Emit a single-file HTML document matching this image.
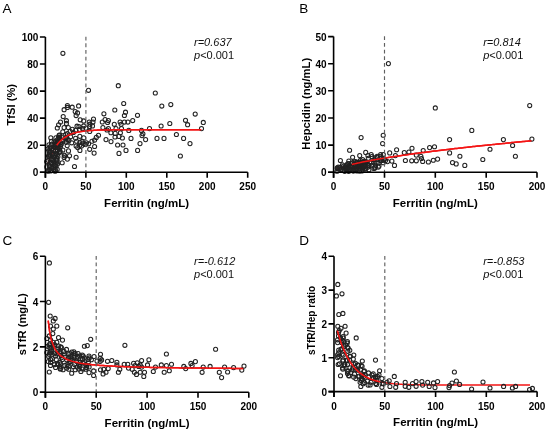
<!DOCTYPE html>
<html><head><meta charset="utf-8"><style>
html,body{margin:0;padding:0;background:#fff;}
svg{display:block;will-change:transform;}
text{font-family:"Liberation Sans", sans-serif;}
.t{font-size:10px;font-weight:bold;fill:#000;}
.l{font-size:11.5px;font-weight:bold;fill:#000;}
.s{font-size:11px;fill:#111;}
.pl{font-size:13.5px;fill:#000;}
</style></head><body>
<svg width="550" height="435" viewBox="0 0 550 435">
<rect width="550" height="435" fill="#fff"/>
<path d="M47.8,164.0 L49.1,160.3 L50.4,157.0 L51.7,154.1 L52.9,151.5 L54.2,149.1 L55.5,147.1 L56.8,145.2 L58.1,143.5 L59.3,142.1 L60.6,140.7 L61.9,139.6 L63.2,138.5 L64.5,137.6 L65.7,136.7 L67.0,136.0 L68.3,135.3 L69.6,134.7 L70.9,134.2 L72.1,133.7 L73.4,133.3 L74.7,132.9 L76.0,132.6 L77.2,132.2 L78.5,132.0 L79.8,131.7 L81.1,131.5 L82.4,131.3 L83.6,131.2 L84.9,131.0 L86.2,130.9 L87.5,130.7 L88.8,130.6 L90.0,130.5 L91.3,130.5 L92.6,130.4 L93.9,130.3 L95.2,130.2 L96.4,130.2 L97.7,130.1 L99.0,130.1 L100.3,130.1 L101.6,130.0 L102.8,130.0 L104.1,130.0 L105.4,129.9 L106.7,129.9 L108.0,129.9 L109.2,129.9 L110.5,129.9 L111.8,129.9 L113.1,129.8 L114.3,129.8 L115.6,129.8 L116.9,129.8 L118.2,129.8 L119.5,129.8 L120.7,129.8 L122.0,129.8 L123.3,129.8 L124.6,129.8 L125.9,129.8 L127.1,129.8 L128.4,129.8 L129.7,129.8 L131.0,129.8 L132.3,129.8 L133.5,129.8 L134.8,129.7 L136.1,129.7 L137.4,129.7 L138.7,129.7 L139.9,129.7 L141.2,129.7 L142.5,129.7 L143.8,129.7 L145.0,129.7 L146.3,129.7 L147.6,129.7 L148.9,129.7 L150.2,129.7 L151.4,129.7 L152.7,129.7 L154.0,129.7 L155.3,129.7 L156.6,129.7 L157.8,129.7 L159.1,129.7 L160.4,129.7 L161.7,129.7 L163.0,129.7 L164.2,129.7 L165.5,129.7 L166.8,129.7 L168.1,129.7 L169.4,129.7 L170.6,129.7 L171.9,129.7 L173.2,129.7 L174.5,129.7 L175.7,129.7 L177.0,129.7 L178.3,129.7 L179.6,129.7 L180.9,129.7 L182.1,129.7 L183.4,129.7 L184.7,129.7 L186.0,129.7 L187.3,129.7 L188.5,129.7 L189.8,129.7 L191.1,129.7 L192.4,129.7 L193.7,129.7 L194.9,129.7 L196.2,129.7 L197.5,129.7 L198.8,129.7 L200.1,129.7 L201.3,129.7" fill="none" stroke="#f41414" stroke-width="1.5"/>
<g fill="none" stroke="#222" stroke-width="1.05"><circle cx="62.9" cy="53.3" r="2.05"/><circle cx="88.5" cy="90.3" r="2.05"/><circle cx="118.3" cy="85.7" r="2.05"/><circle cx="155.3" cy="93.0" r="2.05"/><circle cx="78.6" cy="105.9" r="2.05"/><circle cx="67.4" cy="105.5" r="2.05"/><circle cx="67.4" cy="107.4" r="2.05"/><circle cx="64.1" cy="109.7" r="2.05"/><circle cx="72.2" cy="107.2" r="2.05"/><circle cx="75.2" cy="111.5" r="2.05"/><circle cx="77.5" cy="112.9" r="2.05"/><circle cx="76.1" cy="115.6" r="2.05"/><circle cx="63.2" cy="116.6" r="2.05"/><circle cx="80.2" cy="119.8" r="2.05"/><circle cx="60.5" cy="122.1" r="2.05"/><circle cx="66.4" cy="120.7" r="2.05"/><circle cx="66.4" cy="123.4" r="2.05"/><circle cx="58.6" cy="124.8" r="2.05"/><circle cx="57.3" cy="128.0" r="2.05"/><circle cx="64.1" cy="127.6" r="2.05"/><circle cx="68.3" cy="127.6" r="2.05"/><circle cx="72.4" cy="129.4" r="2.05"/><circle cx="77.0" cy="126.2" r="2.05"/><circle cx="75.6" cy="130.3" r="2.05"/><circle cx="79.8" cy="129.4" r="2.05"/><circle cx="62.8" cy="131.7" r="2.05"/><circle cx="59.1" cy="135.4" r="2.05"/><circle cx="67.4" cy="133.6" r="2.05"/><circle cx="70.6" cy="136.8" r="2.05"/><circle cx="50.8" cy="137.7" r="2.05"/><circle cx="79.8" cy="136.3" r="2.05"/><circle cx="75.6" cy="138.2" r="2.05"/><circle cx="83.7" cy="120.9" r="2.05"/><circle cx="93.5" cy="119.1" r="2.05"/><circle cx="89.2" cy="122.0" r="2.05"/><circle cx="93.0" cy="122.0" r="2.05"/><circle cx="103.9" cy="113.8" r="2.05"/><circle cx="102.3" cy="122.0" r="2.05"/><circle cx="123.7" cy="103.5" r="2.05"/><circle cx="161.8" cy="106.1" r="2.05"/><circle cx="170.8" cy="104.6" r="2.05"/><circle cx="114.8" cy="110.0" r="2.05"/><circle cx="125.5" cy="112.2" r="2.05"/><circle cx="124.4" cy="115.5" r="2.05"/><circle cx="137.5" cy="115.3" r="2.05"/><circle cx="105.1" cy="119.6" r="2.05"/><circle cx="108.4" cy="120.6" r="2.05"/><circle cx="107.6" cy="122.5" r="2.05"/><circle cx="132.7" cy="120.6" r="2.05"/><circle cx="120.1" cy="122.1" r="2.05"/><circle cx="124.4" cy="122.1" r="2.05"/><circle cx="127.9" cy="122.1" r="2.05"/><circle cx="114.3" cy="124.3" r="2.05"/><circle cx="121.1" cy="124.3" r="2.05"/><circle cx="161.1" cy="126.0" r="2.05"/><circle cx="169.8" cy="123.5" r="2.05"/><circle cx="102.9" cy="127.5" r="2.05"/><circle cx="108.4" cy="128.6" r="2.05"/><circle cx="116.0" cy="128.6" r="2.05"/><circle cx="121.5" cy="128.6" r="2.05"/><circle cx="128.8" cy="130.4" r="2.05"/><circle cx="141.5" cy="130.4" r="2.05"/><circle cx="149.5" cy="128.6" r="2.05"/><circle cx="110.9" cy="132.7" r="2.05"/><circle cx="120.4" cy="132.7" r="2.05"/><circle cx="142.9" cy="133.7" r="2.05"/><circle cx="176.4" cy="134.5" r="2.05"/><circle cx="195.2" cy="114.1" r="2.05"/><circle cx="185.5" cy="120.3" r="2.05"/><circle cx="187.6" cy="124.7" r="2.05"/><circle cx="203.3" cy="122.4" r="2.05"/><circle cx="201.5" cy="128.6" r="2.05"/><circle cx="106.0" cy="139.6" r="2.05"/><circle cx="111.0" cy="141.6" r="2.05"/><circle cx="115.0" cy="137.0" r="2.05"/><circle cx="119.0" cy="136.4" r="2.05"/><circle cx="122.4" cy="138.0" r="2.05"/><circle cx="131.0" cy="138.4" r="2.05"/><circle cx="117.6" cy="145.0" r="2.05"/><circle cx="123.0" cy="145.0" r="2.05"/><circle cx="119.0" cy="153.4" r="2.05"/><circle cx="126.0" cy="150.4" r="2.05"/><circle cx="137.6" cy="150.4" r="2.05"/><circle cx="140.0" cy="143.6" r="2.05"/><circle cx="145.6" cy="139.6" r="2.05"/><circle cx="142.0" cy="135.6" r="2.05"/><circle cx="157.0" cy="138.4" r="2.05"/><circle cx="164.0" cy="138.4" r="2.05"/><circle cx="183.6" cy="138.4" r="2.05"/><circle cx="190.0" cy="143.6" r="2.05"/><circle cx="180.4" cy="156.0" r="2.05"/><circle cx="107.0" cy="130.0" r="2.05"/><circle cx="83.7" cy="125.9" r="2.05"/><circle cx="82.6" cy="128.6" r="2.05"/><circle cx="85.9" cy="128.1" r="2.05"/><circle cx="89.7" cy="126.5" r="2.05"/><circle cx="92.5" cy="125.9" r="2.05"/><circle cx="70.1" cy="131.4" r="2.05"/><circle cx="73.4" cy="132.5" r="2.05"/><circle cx="89.7" cy="131.4" r="2.05"/><circle cx="65.7" cy="134.6" r="2.05"/><circle cx="98.5" cy="135.2" r="2.05"/><circle cx="55.9" cy="137.9" r="2.05"/><circle cx="59.7" cy="138.5" r="2.05"/><circle cx="66.3" cy="137.4" r="2.05"/><circle cx="67.9" cy="139.5" r="2.05"/><circle cx="83.7" cy="137.9" r="2.05"/><circle cx="96.3" cy="137.4" r="2.05"/><circle cx="94.6" cy="140.1" r="2.05"/><circle cx="91.9" cy="141.2" r="2.05"/><circle cx="51.5" cy="141.2" r="2.05"/><circle cx="58.1" cy="141.2" r="2.05"/><circle cx="62.5" cy="141.2" r="2.05"/><circle cx="66.3" cy="142.3" r="2.05"/><circle cx="76.6" cy="141.2" r="2.05"/><circle cx="82.1" cy="141.2" r="2.05"/><circle cx="86.5" cy="142.8" r="2.05"/><circle cx="71.7" cy="142.8" r="2.05"/><circle cx="76.1" cy="157.2" r="2.05"/><circle cx="74.5" cy="166.5" r="2.05"/><circle cx="62.2" cy="162.7" r="2.05"/><circle cx="67.4" cy="159.1" r="2.05"/><circle cx="69.5" cy="155.8" r="2.05"/><circle cx="68.5" cy="150.9" r="2.05"/><circle cx="77.7" cy="147.6" r="2.05"/><circle cx="79.9" cy="150.4" r="2.05"/><circle cx="81.5" cy="146.0" r="2.05"/><circle cx="89.7" cy="149.3" r="2.05"/><circle cx="94.6" cy="146.5" r="2.05"/><circle cx="94.1" cy="153.1" r="2.05"/><circle cx="88.6" cy="143.8" r="2.05"/><circle cx="49.0" cy="144.7" r="2.05"/><circle cx="48.0" cy="148.8" r="2.05"/><circle cx="48.5" cy="156.1" r="2.05"/><circle cx="64.1" cy="157.5" r="2.05"/><circle cx="76.1" cy="146.0" r="2.05"/><circle cx="79.8" cy="142.4" r="2.05"/><circle cx="90.0" cy="124.2" r="2.05"/><circle cx="78.9" cy="126.5" r="2.05"/><circle cx="115.2" cy="133.4" r="2.05"/><circle cx="83.5" cy="143.5" r="2.05"/><circle cx="79.8" cy="145.3" r="2.05"/><circle cx="85.4" cy="144.4" r="2.05"/><circle cx="59.5" cy="135.0" r="2.05"/><circle cx="58.6" cy="137.1" r="2.05"/><circle cx="59.4" cy="137.2" r="2.05"/><circle cx="61.3" cy="136.8" r="2.05"/><circle cx="57.3" cy="139.7" r="2.05"/><circle cx="59.1" cy="139.0" r="2.05"/><circle cx="62.1" cy="140.3" r="2.05"/><circle cx="54.1" cy="141.7" r="2.05"/><circle cx="56.1" cy="142.2" r="2.05"/><circle cx="57.3" cy="142.0" r="2.05"/><circle cx="60.7" cy="142.6" r="2.05"/><circle cx="51.5" cy="144.2" r="2.05"/><circle cx="54.8" cy="144.5" r="2.05"/><circle cx="56.3" cy="144.0" r="2.05"/><circle cx="58.9" cy="144.7" r="2.05"/><circle cx="61.1" cy="143.9" r="2.05"/><circle cx="50.1" cy="146.8" r="2.05"/><circle cx="54.2" cy="146.5" r="2.05"/><circle cx="55.3" cy="145.7" r="2.05"/><circle cx="57.7" cy="147.3" r="2.05"/><circle cx="60.5" cy="146.4" r="2.05"/><circle cx="50.0" cy="148.5" r="2.05"/><circle cx="51.6" cy="148.7" r="2.05"/><circle cx="55.3" cy="147.6" r="2.05"/><circle cx="57.2" cy="149.2" r="2.05"/><circle cx="59.6" cy="149.1" r="2.05"/><circle cx="48.9" cy="150.7" r="2.05"/><circle cx="50.1" cy="151.6" r="2.05"/><circle cx="53.4" cy="150.2" r="2.05"/><circle cx="55.5" cy="150.8" r="2.05"/><circle cx="57.4" cy="150.5" r="2.05"/><circle cx="60.0" cy="151.1" r="2.05"/><circle cx="49.2" cy="153.2" r="2.05"/><circle cx="52.8" cy="153.7" r="2.05"/><circle cx="55.0" cy="153.7" r="2.05"/><circle cx="56.1" cy="153.8" r="2.05"/><circle cx="59.2" cy="152.2" r="2.05"/><circle cx="60.1" cy="152.1" r="2.05"/><circle cx="49.3" cy="154.8" r="2.05"/><circle cx="50.2" cy="155.6" r="2.05"/><circle cx="52.9" cy="154.5" r="2.05"/><circle cx="54.8" cy="155.4" r="2.05"/><circle cx="57.1" cy="154.9" r="2.05"/><circle cx="49.7" cy="156.9" r="2.05"/><circle cx="51.3" cy="158.4" r="2.05"/><circle cx="54.4" cy="157.0" r="2.05"/><circle cx="56.8" cy="158.2" r="2.05"/><circle cx="57.9" cy="156.6" r="2.05"/><circle cx="48.1" cy="160.2" r="2.05"/><circle cx="51.3" cy="159.9" r="2.05"/><circle cx="52.7" cy="160.8" r="2.05"/><circle cx="56.1" cy="159.8" r="2.05"/><circle cx="57.2" cy="160.1" r="2.05"/><circle cx="46.7" cy="161.6" r="2.05"/><circle cx="50.8" cy="162.8" r="2.05"/><circle cx="51.7" cy="162.8" r="2.05"/><circle cx="54.0" cy="162.9" r="2.05"/><circle cx="57.1" cy="161.9" r="2.05"/><circle cx="49.4" cy="165.2" r="2.05"/><circle cx="51.1" cy="163.6" r="2.05"/><circle cx="54.0" cy="165.3" r="2.05"/><circle cx="55.9" cy="164.3" r="2.05"/><circle cx="57.5" cy="164.0" r="2.05"/><circle cx="46.8" cy="166.9" r="2.05"/><circle cx="49.5" cy="166.5" r="2.05"/><circle cx="51.8" cy="167.3" r="2.05"/><circle cx="55.2" cy="165.6" r="2.05"/><circle cx="56.0" cy="166.2" r="2.05"/><circle cx="49.1" cy="169.5" r="2.05"/><circle cx="51.9" cy="168.5" r="2.05"/><circle cx="54.0" cy="169.2" r="2.05"/><circle cx="55.4" cy="169.8" r="2.05"/><circle cx="57.2" cy="169.2" r="2.05"/><circle cx="48.1" cy="171.2" r="2.05"/><circle cx="50.6" cy="170.8" r="2.05"/><circle cx="51.8" cy="170.6" r="2.05"/><circle cx="55.1" cy="171.2" r="2.05"/><circle cx="66.1" cy="140.0" r="2.05"/><circle cx="68.9" cy="140.5" r="2.05"/><circle cx="61.1" cy="144.5" r="2.05"/><circle cx="67.2" cy="145.6" r="2.05"/><circle cx="62.9" cy="150.0" r="2.05"/><circle cx="64.2" cy="155.0" r="2.05"/><circle cx="64.6" cy="155.8" r="2.05"/></g>
<path d="M56.7,145.3 L57.9,143.7 L59.1,142.3 L60.3,141.0 L61.5,139.9 L62.8,138.8 L64.0,137.9 L65.2,137.1 L66.4,136.3 L67.6,135.7 L68.8,135.1 L70.0,134.5 L71.2,134.0 L72.4,133.6 L73.6,133.2 L74.8,132.9 L76.0,132.5 L77.2,132.3 L78.4,132.0 L79.6,131.8 L80.8,131.6 L82.0,131.4 L83.2,131.2 L84.4,131.1 L85.6,130.9 L86.9,130.8 L88.1,130.7 L89.3,130.6 L90.5,130.5 L91.7,130.4 L92.9,130.4 L94.1,130.3 L95.3,130.2 L96.5,130.2 L97.7,130.1 L98.9,130.1 L100.1,130.1 L101.3,130.0 L102.5,130.0 L103.7,130.0 L104.9,129.9 L106.1,129.9 L107.3,129.9 L108.5,129.9 L109.8,129.9 L111.0,129.9 L112.2,129.8 L113.4,129.8 L114.6,129.8 L115.8,129.8 L117.0,129.8 L118.2,129.8 L119.4,129.8 L120.6,129.8 L121.8,129.8 L123.0,129.8 L124.2,129.8 L125.4,129.8 L126.6,129.8 L127.8,129.8 L129.0,129.8 L130.2,129.8 L131.4,129.8 L132.6,129.8 L133.9,129.8 L135.1,129.7 L136.3,129.7 L137.5,129.7 L138.7,129.7 L139.9,129.7 L141.1,129.7 L142.3,129.7 L143.5,129.7 L144.7,129.7 L145.9,129.7 L147.1,129.7 L148.3,129.7 L149.5,129.7 L150.7,129.7 L151.9,129.7 L153.1,129.7 L154.3,129.7 L155.5,129.7 L156.7,129.7 L158.0,129.7 L159.2,129.7 L160.4,129.7 L161.6,129.7 L162.8,129.7 L164.0,129.7 L165.2,129.7 L166.4,129.7 L167.6,129.7 L168.8,129.7 L170.0,129.7 L171.2,129.7 L172.4,129.7 L173.6,129.7 L174.8,129.7 L176.0,129.7 L177.2,129.7 L178.4,129.7 L179.6,129.7 L180.8,129.7 L182.1,129.7 L183.3,129.7 L184.5,129.7 L185.7,129.7 L186.9,129.7 L188.1,129.7 L189.3,129.7 L190.5,129.7 L191.7,129.7 L192.9,129.7 L194.1,129.7 L195.3,129.7 L196.5,129.7 L197.7,129.7 L198.9,129.7 L200.1,129.7 L201.3,129.7" fill="none" stroke="#f41414" stroke-width="1.5"/>
<line x1="85.9" y1="36.7" x2="85.9" y2="172.2" stroke="#606060" stroke-width="1.15" stroke-dasharray="3.8,2.87"/>
<path d="M45.4,37.0 V177.7 M39.9,172.2 H247.7" stroke="#000" stroke-width="1.6" fill="none"/>
<path d="M39.9,172.2 H45.4 M39.9,145.2 H45.4 M39.9,118.1 H45.4 M39.9,91.1 H45.4 M39.9,64.0 H45.4 M39.9,37.0 H45.4 M45.4,172.2 V177.7 M85.9,172.2 V177.7 M126.3,172.2 V177.7 M166.8,172.2 V177.7 M207.2,172.2 V177.7 M247.7,172.2 V177.7" stroke="#000" stroke-width="1.6" fill="none"/>
<text x="38.4" y="176.2" text-anchor="end" class="t">0</text>
<text x="38.4" y="149.2" text-anchor="end" class="t">20</text>
<text x="38.4" y="122.1" text-anchor="end" class="t">40</text>
<text x="38.4" y="95.1" text-anchor="end" class="t">60</text>
<text x="38.4" y="68.0" text-anchor="end" class="t">80</text>
<text x="38.4" y="41.0" text-anchor="end" class="t">100</text>
<text x="45.4" y="190.2" text-anchor="middle" class="t">0</text>
<text x="85.9" y="190.2" text-anchor="middle" class="t">50</text>
<text x="126.3" y="190.2" text-anchor="middle" class="t">100</text>
<text x="166.8" y="190.2" text-anchor="middle" class="t">150</text>
<text x="207.2" y="190.2" text-anchor="middle" class="t">200</text>
<text x="247.7" y="190.2" text-anchor="middle" class="t">250</text>
<text x="146.6" y="206.7" text-anchor="middle" class="l">Ferritin (ng/mL)</text>
<text transform="translate(14.6,104.7) rotate(-90)" text-anchor="middle" class="l" style="font-size:11.15px">TfSI (%)</text>
<text x="194" y="45.6" class="s"><tspan font-style="italic">r=0.637</tspan></text>
<text x="194" y="58.7" class="s"><tspan font-style="italic">p</tspan>&lt;0.001</text>
<text x="2.5" y="12.8" class="pl">A</text>
<path d="M336.7,169.5 L338.3,168.8 L339.9,168.1 L341.5,167.5 L343.1,167.0 L344.8,166.4 L346.4,166.0 L348.0,165.5 L349.6,165.1 L351.3,164.7 L352.9,164.2 L354.5,163.9 L356.1,163.5 L357.7,163.1 L359.4,162.8 L361.0,162.4 L362.6,162.1 L364.2,161.7 L365.9,161.4 L367.5,161.1 L369.1,160.8 L370.7,160.5 L372.4,160.2 L374.0,159.9 L375.6,159.6 L377.2,159.3 L378.8,159.0 L380.5,158.8 L382.1,158.5 L383.7,158.2 L385.3,158.0 L387.0,157.7 L388.6,157.4 L390.2,157.2 L391.8,156.9 L393.5,156.7 L395.1,156.4 L396.7,156.2 L398.3,155.9 L399.9,155.7 L401.6,155.5 L403.2,155.2 L404.8,155.0 L406.4,154.8 L408.1,154.5 L409.7,154.3 L411.3,154.1 L412.9,153.9 L414.6,153.6 L416.2,153.4 L417.8,153.2 L419.4,153.0 L421.0,152.8 L422.7,152.6 L424.3,152.4 L425.9,152.2 L427.5,151.9 L429.2,151.7 L430.8,151.5 L432.4,151.3 L434.0,151.1 L435.7,150.9 L437.3,150.7 L438.9,150.5 L440.5,150.3 L442.1,150.1 L443.8,149.9 L445.4,149.8 L447.0,149.6 L448.6,149.4 L450.3,149.2 L451.9,149.0 L453.5,148.8 L455.1,148.6 L456.8,148.4 L458.4,148.2 L460.0,148.1 L461.6,147.9 L463.2,147.7 L464.9,147.5 L466.5,147.3 L468.1,147.2 L469.7,147.0 L471.4,146.8 L473.0,146.6 L474.6,146.5 L476.2,146.3 L477.8,146.1 L479.5,145.9 L481.1,145.8 L482.7,145.6 L484.3,145.4 L486.0,145.2 L487.6,145.1 L489.2,144.9 L490.8,144.7 L492.5,144.6 L494.1,144.4 L495.7,144.2 L497.3,144.1 L498.9,143.9 L500.6,143.7 L502.2,143.6 L503.8,143.4 L505.4,143.3 L507.1,143.1 L508.7,142.9 L510.3,142.8 L511.9,142.6 L513.6,142.5 L515.2,142.3 L516.8,142.1 L518.4,142.0 L520.0,141.8 L521.7,141.7 L523.3,141.5 L524.9,141.4 L526.5,141.2 L528.2,141.1 L529.8,140.9 L531.4,140.8" fill="none" stroke="#f41414" stroke-width="1.5"/>
<g fill="none" stroke="#222" stroke-width="1.05"><circle cx="388.4" cy="63.6" r="2.05"/><circle cx="435.3" cy="107.9" r="2.05"/><circle cx="529.7" cy="105.6" r="2.05"/><circle cx="471.8" cy="130.4" r="2.05"/><circle cx="449.6" cy="139.6" r="2.05"/><circle cx="503.4" cy="139.6" r="2.05"/><circle cx="531.9" cy="139.1" r="2.05"/><circle cx="512.6" cy="145.5" r="2.05"/><circle cx="490.0" cy="149.2" r="2.05"/><circle cx="449.6" cy="152.9" r="2.05"/><circle cx="459.9" cy="156.2" r="2.05"/><circle cx="515.4" cy="156.2" r="2.05"/><circle cx="482.8" cy="159.5" r="2.05"/><circle cx="452.5" cy="162.6" r="2.05"/><circle cx="456.2" cy="163.9" r="2.05"/><circle cx="464.8" cy="165.4" r="2.05"/><circle cx="361.1" cy="137.6" r="2.05"/><circle cx="383.2" cy="135.2" r="2.05"/><circle cx="382.6" cy="143.6" r="2.05"/><circle cx="349.6" cy="150.2" r="2.05"/><circle cx="365.7" cy="152.4" r="2.05"/><circle cx="371.2" cy="154.5" r="2.05"/><circle cx="359.7" cy="155.6" r="2.05"/><circle cx="352.6" cy="157.3" r="2.05"/><circle cx="367.9" cy="155.6" r="2.05"/><circle cx="340.4" cy="160.5" r="2.05"/><circle cx="348.8" cy="161.1" r="2.05"/><circle cx="389.7" cy="152.9" r="2.05"/><circle cx="387.5" cy="161.6" r="2.05"/><circle cx="391.9" cy="161.1" r="2.05"/><circle cx="377.2" cy="157.3" r="2.05"/><circle cx="380.5" cy="156.2" r="2.05"/><circle cx="381.5" cy="160.5" r="2.05"/><circle cx="383.2" cy="162.7" r="2.05"/><circle cx="376.1" cy="162.7" r="2.05"/><circle cx="378.3" cy="167.1" r="2.05"/><circle cx="375.0" cy="167.1" r="2.05"/><circle cx="371.2" cy="162.7" r="2.05"/><circle cx="367.9" cy="164.9" r="2.05"/><circle cx="362.5" cy="162.7" r="2.05"/><circle cx="356.5" cy="162.7" r="2.05"/><circle cx="359.2" cy="164.9" r="2.05"/><circle cx="354.8" cy="166.5" r="2.05"/><circle cx="396.6" cy="149.7" r="2.05"/><circle cx="395.4" cy="155.6" r="2.05"/><circle cx="394.5" cy="165.4" r="2.05"/><circle cx="404.3" cy="152.5" r="2.05"/><circle cx="408.9" cy="152.0" r="2.05"/><circle cx="412.0" cy="148.2" r="2.05"/><circle cx="416.3" cy="155.1" r="2.05"/><circle cx="420.9" cy="156.2" r="2.05"/><circle cx="423.2" cy="150.5" r="2.05"/><circle cx="429.6" cy="147.6" r="2.05"/><circle cx="434.5" cy="146.7" r="2.05"/><circle cx="405.4" cy="160.5" r="2.05"/><circle cx="411.7" cy="160.8" r="2.05"/><circle cx="416.3" cy="160.8" r="2.05"/><circle cx="421.5" cy="158.5" r="2.05"/><circle cx="422.7" cy="161.4" r="2.05"/><circle cx="428.4" cy="162.0" r="2.05"/><circle cx="433.3" cy="160.2" r="2.05"/><circle cx="437.6" cy="159.1" r="2.05"/><circle cx="383.0" cy="159.0" r="2.05"/><circle cx="360.4" cy="160.2" r="2.05"/><circle cx="362.6" cy="159.6" r="2.05"/><circle cx="354.2" cy="161.8" r="2.05"/><circle cx="355.6" cy="161.5" r="2.05"/><circle cx="357.6" cy="162.2" r="2.05"/><circle cx="359.6" cy="162.0" r="2.05"/><circle cx="361.3" cy="162.1" r="2.05"/><circle cx="364.3" cy="161.4" r="2.05"/><circle cx="365.6" cy="162.2" r="2.05"/><circle cx="347.6" cy="163.8" r="2.05"/><circle cx="348.8" cy="163.5" r="2.05"/><circle cx="351.0" cy="163.6" r="2.05"/><circle cx="352.4" cy="162.9" r="2.05"/><circle cx="354.7" cy="164.2" r="2.05"/><circle cx="356.9" cy="162.7" r="2.05"/><circle cx="359.2" cy="163.8" r="2.05"/><circle cx="361.3" cy="162.9" r="2.05"/><circle cx="363.0" cy="162.6" r="2.05"/><circle cx="364.8" cy="163.0" r="2.05"/><circle cx="342.5" cy="164.9" r="2.05"/><circle cx="343.4" cy="166.1" r="2.05"/><circle cx="345.7" cy="165.8" r="2.05"/><circle cx="347.0" cy="165.1" r="2.05"/><circle cx="349.2" cy="165.7" r="2.05"/><circle cx="351.0" cy="166.2" r="2.05"/><circle cx="352.9" cy="165.8" r="2.05"/><circle cx="354.8" cy="165.0" r="2.05"/><circle cx="358.2" cy="164.8" r="2.05"/><circle cx="359.1" cy="165.7" r="2.05"/><circle cx="361.4" cy="164.6" r="2.05"/><circle cx="364.4" cy="164.8" r="2.05"/><circle cx="364.7" cy="165.1" r="2.05"/><circle cx="337.2" cy="167.8" r="2.05"/><circle cx="338.3" cy="167.1" r="2.05"/><circle cx="340.1" cy="167.3" r="2.05"/><circle cx="343.4" cy="167.8" r="2.05"/><circle cx="345.6" cy="167.8" r="2.05"/><circle cx="347.5" cy="167.7" r="2.05"/><circle cx="348.7" cy="166.9" r="2.05"/><circle cx="351.0" cy="167.0" r="2.05"/><circle cx="352.0" cy="167.3" r="2.05"/><circle cx="355.4" cy="166.7" r="2.05"/><circle cx="356.8" cy="167.2" r="2.05"/><circle cx="358.7" cy="166.7" r="2.05"/><circle cx="361.4" cy="166.9" r="2.05"/><circle cx="362.8" cy="167.2" r="2.05"/><circle cx="363.7" cy="167.5" r="2.05"/><circle cx="337.3" cy="168.5" r="2.05"/><circle cx="339.1" cy="168.7" r="2.05"/><circle cx="341.2" cy="169.6" r="2.05"/><circle cx="343.9" cy="170.2" r="2.05"/><circle cx="346.6" cy="170.2" r="2.05"/><circle cx="347.3" cy="169.2" r="2.05"/><circle cx="349.3" cy="169.5" r="2.05"/><circle cx="352.0" cy="169.9" r="2.05"/><circle cx="354.1" cy="168.9" r="2.05"/><circle cx="355.5" cy="169.4" r="2.05"/><circle cx="356.8" cy="168.5" r="2.05"/><circle cx="359.4" cy="168.6" r="2.05"/><circle cx="362.0" cy="168.9" r="2.05"/><circle cx="362.8" cy="168.8" r="2.05"/><circle cx="365.0" cy="168.8" r="2.05"/><circle cx="337.0" cy="171.2" r="2.05"/><circle cx="344.7" cy="171.3" r="2.05"/><circle cx="347.0" cy="170.5" r="2.05"/><circle cx="348.6" cy="171.3" r="2.05"/><circle cx="350.2" cy="170.6" r="2.05"/><circle cx="353.3" cy="171.1" r="2.05"/><circle cx="356.9" cy="170.9" r="2.05"/><circle cx="359.5" cy="171.1" r="2.05"/><circle cx="361.9" cy="170.9" r="2.05"/><circle cx="380.6" cy="154.5" r="2.05"/><circle cx="383.3" cy="154.5" r="2.05"/><circle cx="368.3" cy="158.4" r="2.05"/><circle cx="371.9" cy="156.5" r="2.05"/><circle cx="375.2" cy="157.9" r="2.05"/><circle cx="377.1" cy="156.4" r="2.05"/><circle cx="381.8" cy="157.6" r="2.05"/><circle cx="384.5" cy="158.8" r="2.05"/><circle cx="366.4" cy="161.7" r="2.05"/><circle cx="369.7" cy="162.0" r="2.05"/><circle cx="374.0" cy="159.7" r="2.05"/><circle cx="375.1" cy="160.0" r="2.05"/><circle cx="380.5" cy="160.6" r="2.05"/><circle cx="382.7" cy="160.3" r="2.05"/><circle cx="385.5" cy="160.5" r="2.05"/><circle cx="364.7" cy="164.2" r="2.05"/><circle cx="368.5" cy="165.1" r="2.05"/><circle cx="371.9" cy="165.2" r="2.05"/><circle cx="375.5" cy="165.3" r="2.05"/><circle cx="378.1" cy="163.0" r="2.05"/><circle cx="364.2" cy="166.3" r="2.05"/><circle cx="367.6" cy="167.3" r="2.05"/><circle cx="369.2" cy="165.8" r="2.05"/><circle cx="373.9" cy="168.5" r="2.05"/><circle cx="374.9" cy="167.9" r="2.05"/><circle cx="379.0" cy="166.1" r="2.05"/><circle cx="365.5" cy="168.9" r="2.05"/><circle cx="368.9" cy="169.7" r="2.05"/></g>
<path d="M351.9,164.5 L353.4,164.1 L354.9,163.8 L356.4,163.4 L357.9,163.1 L359.4,162.8 L360.9,162.4 L362.4,162.1 L363.9,161.8 L365.4,161.5 L366.9,161.2 L368.4,160.9 L369.9,160.7 L371.4,160.4 L372.8,160.1 L374.3,159.8 L375.8,159.6 L377.3,159.3 L378.8,159.0 L380.3,158.8 L381.8,158.5 L383.3,158.3 L384.8,158.0 L386.3,157.8 L387.8,157.6 L389.3,157.3 L390.8,157.1 L392.3,156.9 L393.8,156.6 L395.3,156.4 L396.8,156.2 L398.3,155.9 L399.8,155.7 L401.3,155.5 L402.8,155.3 L404.3,155.1 L405.8,154.9 L407.3,154.7 L408.7,154.4 L410.2,154.2 L411.7,154.0 L413.2,153.8 L414.7,153.6 L416.2,153.4 L417.7,153.2 L419.2,153.0 L420.7,152.8 L422.2,152.6 L423.7,152.4 L425.2,152.2 L426.7,152.0 L428.2,151.9 L429.7,151.7 L431.2,151.5 L432.7,151.3 L434.2,151.1 L435.7,150.9 L437.2,150.7 L438.7,150.6 L440.2,150.4 L441.7,150.2 L443.2,150.0 L444.6,149.8 L446.1,149.7 L447.6,149.5 L449.1,149.3 L450.6,149.1 L452.1,149.0 L453.6,148.8 L455.1,148.6 L456.6,148.4 L458.1,148.3 L459.6,148.1 L461.1,147.9 L462.6,147.8 L464.1,147.6 L465.6,147.4 L467.1,147.3 L468.6,147.1 L470.1,146.9 L471.6,146.8 L473.1,146.6 L474.6,146.5 L476.1,146.3 L477.6,146.1 L479.1,146.0 L480.5,145.8 L482.0,145.7 L483.5,145.5 L485.0,145.3 L486.5,145.2 L488.0,145.0 L489.5,144.9 L491.0,144.7 L492.5,144.6 L494.0,144.4 L495.5,144.3 L497.0,144.1 L498.5,144.0 L500.0,143.8 L501.5,143.7 L503.0,143.5 L504.5,143.4 L506.0,143.2 L507.5,143.1 L509.0,142.9 L510.5,142.8 L512.0,142.6 L513.5,142.5 L515.0,142.3 L516.4,142.2 L517.9,142.0 L519.4,141.9 L520.9,141.7 L522.4,141.6 L523.9,141.5 L525.4,141.3 L526.9,141.2 L528.4,141.0 L529.9,140.9 L531.4,140.8" fill="none" stroke="#f41414" stroke-width="1.5"/>
<line x1="384.5" y1="36.3" x2="384.5" y2="172.2" stroke="#606060" stroke-width="1.15" stroke-dasharray="3.8,2.87"/>
<path d="M333.6,36.6 V177.7 M328.1,172.2 H537.0" stroke="#000" stroke-width="1.6" fill="none"/>
<path d="M328.1,172.2 H333.6 M328.1,145.1 H333.6 M328.1,118.0 H333.6 M328.1,90.8 H333.6 M328.1,63.7 H333.6 M328.1,36.6 H333.6 M333.6,172.2 V177.7 M384.5,172.2 V177.7 M435.3,172.2 V177.7 M486.2,172.2 V177.7 M537.0,172.2 V177.7" stroke="#000" stroke-width="1.6" fill="none"/>
<text x="326.6" y="176.2" text-anchor="end" class="t">0</text>
<text x="326.6" y="149.1" text-anchor="end" class="t">10</text>
<text x="326.6" y="122.0" text-anchor="end" class="t">20</text>
<text x="326.6" y="94.8" text-anchor="end" class="t">30</text>
<text x="326.6" y="67.7" text-anchor="end" class="t">40</text>
<text x="326.6" y="40.6" text-anchor="end" class="t">50</text>
<text x="333.6" y="190.2" text-anchor="middle" class="t">0</text>
<text x="384.5" y="190.2" text-anchor="middle" class="t">50</text>
<text x="435.3" y="190.2" text-anchor="middle" class="t">100</text>
<text x="486.2" y="190.2" text-anchor="middle" class="t">150</text>
<text x="537.0" y="190.2" text-anchor="middle" class="t">200</text>
<text x="435.3" y="206.7" text-anchor="middle" class="l">Ferritin (ng/mL)</text>
<text transform="translate(310.0,103.8) rotate(-90)" text-anchor="middle" class="l" style="font-size:11.25px">Hepcidin (ng/mL)</text>
<text x="483.2" y="45.6" class="s"><tspan font-style="italic">r=0.814</tspan></text>
<text x="483.2" y="58.7" class="s"><tspan font-style="italic">p</tspan>&lt;0.001</text>
<text x="299.3" y="12.8" class="pl">B</text>
<path d="M48.2,320.7 L49.8,332.8 L51.4,340.1 L53.1,344.9 L54.7,348.4 L56.3,351.1 L58.0,353.1 L59.6,354.8 L61.2,356.1 L62.8,357.2 L64.5,358.2 L66.1,359.0 L67.7,359.7 L69.3,360.3 L71.0,360.9 L72.6,361.4 L74.2,361.8 L75.8,362.2 L77.5,362.5 L79.1,362.9 L80.7,363.2 L82.3,363.4 L84.0,363.7 L85.6,363.9 L87.2,364.1 L88.8,364.3 L90.5,364.5 L92.1,364.7 L93.7,364.8 L95.3,365.0 L97.0,365.1 L98.6,365.2 L100.2,365.4 L101.9,365.5 L103.5,365.6 L105.1,365.7 L106.7,365.8 L108.4,365.9 L110.0,366.0 L111.6,366.1 L113.2,366.2 L114.9,366.2 L116.5,366.3 L118.1,366.4 L119.7,366.5 L121.4,366.5 L123.0,366.6 L124.6,366.7 L126.2,366.7 L127.9,366.8 L129.5,366.8 L131.1,366.9 L132.7,366.9 L134.4,367.0 L136.0,367.0 L137.6,367.1 L139.2,367.1 L140.9,367.2 L142.5,367.2 L144.1,367.2 L145.8,367.3 L147.4,367.3 L149.0,367.3 L150.6,367.4 L152.3,367.4 L153.9,367.4 L155.5,367.5 L157.1,367.5 L158.8,367.5 L160.4,367.6 L162.0,367.6 L163.6,367.6 L165.3,367.6 L166.9,367.7 L168.5,367.7 L170.1,367.7 L171.8,367.7 L173.4,367.8 L175.0,367.8 L176.6,367.8 L178.3,367.8 L179.9,367.9 L181.5,367.9 L183.1,367.9 L184.8,367.9 L186.4,367.9 L188.0,368.0 L189.7,368.0 L191.3,368.0 L192.9,368.0 L194.5,368.0 L196.2,368.1 L197.8,368.1 L199.4,368.1 L201.0,368.1 L202.7,368.1 L204.3,368.1 L205.9,368.1 L207.5,368.2 L209.2,368.2 L210.8,368.2 L212.4,368.2 L214.0,368.2 L215.7,368.2 L217.3,368.2 L218.9,368.3 L220.5,368.3 L222.2,368.3 L223.8,368.3 L225.4,368.3 L227.0,368.3 L228.7,368.3 L230.3,368.3 L231.9,368.4 L233.6,368.4 L235.2,368.4 L236.8,368.4 L238.4,368.4 L240.1,368.4 L241.7,368.4 L243.3,368.4" fill="none" stroke="#f41414" stroke-width="1.5"/>
<g fill="none" stroke="#222" stroke-width="1.05"><circle cx="49.4" cy="262.9" r="2.05"/><circle cx="48.6" cy="302.3" r="2.05"/><circle cx="50.2" cy="316.0" r="2.05"/><circle cx="55.1" cy="318.4" r="2.05"/><circle cx="53.3" cy="320.9" r="2.05"/><circle cx="50.5" cy="326.1" r="2.05"/><circle cx="56.8" cy="326.1" r="2.05"/><circle cx="53.3" cy="329.0" r="2.05"/><circle cx="52.8" cy="333.6" r="2.05"/><circle cx="67.7" cy="327.8" r="2.05"/><circle cx="49.3" cy="335.9" r="2.05"/><circle cx="50.5" cy="339.9" r="2.05"/><circle cx="58.5" cy="337.6" r="2.05"/><circle cx="62.5" cy="340.1" r="2.05"/><circle cx="56.8" cy="342.2" r="2.05"/><circle cx="90.7" cy="339.3" r="2.05"/><circle cx="84.4" cy="346.2" r="2.05"/><circle cx="87.3" cy="345.6" r="2.05"/><circle cx="49.3" cy="345.1" r="2.05"/><circle cx="54.5" cy="344.5" r="2.05"/><circle cx="60.8" cy="346.8" r="2.05"/><circle cx="49.9" cy="347.9" r="2.05"/><circle cx="51.0" cy="350.8" r="2.05"/><circle cx="58.0" cy="349.1" r="2.05"/><circle cx="49.3" cy="354.3" r="2.05"/><circle cx="54.5" cy="353.7" r="2.05"/><circle cx="60.2" cy="353.1" r="2.05"/><circle cx="68.3" cy="353.7" r="2.05"/><circle cx="71.7" cy="352.0" r="2.05"/><circle cx="77.5" cy="356.6" r="2.05"/><circle cx="83.2" cy="356.0" r="2.05"/><circle cx="89.0" cy="356.0" r="2.05"/><circle cx="49.3" cy="372.0" r="2.05"/><circle cx="50.5" cy="359.4" r="2.05"/><circle cx="54.5" cy="364.0" r="2.05"/><circle cx="55.6" cy="367.4" r="2.05"/><circle cx="58.0" cy="364.5" r="2.05"/><circle cx="60.2" cy="369.1" r="2.05"/><circle cx="63.1" cy="369.7" r="2.05"/><circle cx="70.6" cy="356.5" r="2.05"/><circle cx="74.0" cy="357.6" r="2.05"/><circle cx="79.8" cy="355.9" r="2.05"/><circle cx="94.1" cy="356.5" r="2.05"/><circle cx="100.5" cy="354.2" r="2.05"/><circle cx="71.7" cy="373.2" r="2.05"/><circle cx="75.2" cy="369.7" r="2.05"/><circle cx="80.9" cy="371.4" r="2.05"/><circle cx="89.0" cy="372.6" r="2.05"/><circle cx="93.6" cy="375.5" r="2.05"/><circle cx="93.6" cy="370.9" r="2.05"/><circle cx="100.5" cy="369.7" r="2.05"/><circle cx="86.7" cy="367.4" r="2.05"/><circle cx="79.8" cy="366.3" r="2.05"/><circle cx="68.3" cy="366.3" r="2.05"/><circle cx="83.2" cy="362.8" r="2.05"/><circle cx="88.4" cy="361.7" r="2.05"/><circle cx="97.0" cy="361.1" r="2.05"/><circle cx="101.6" cy="359.9" r="2.05"/><circle cx="124.9" cy="345.3" r="2.05"/><circle cx="166.4" cy="354.0" r="2.05"/><circle cx="100.2" cy="358.4" r="2.05"/><circle cx="100.2" cy="361.3" r="2.05"/><circle cx="107.5" cy="361.3" r="2.05"/><circle cx="111.8" cy="360.5" r="2.05"/><circle cx="116.9" cy="362.3" r="2.05"/><circle cx="116.9" cy="364.9" r="2.05"/><circle cx="124.2" cy="364.2" r="2.05"/><circle cx="127.8" cy="364.2" r="2.05"/><circle cx="133.6" cy="363.2" r="2.05"/><circle cx="137.3" cy="362.7" r="2.05"/><circle cx="141.6" cy="360.5" r="2.05"/><circle cx="148.9" cy="359.8" r="2.05"/><circle cx="147.5" cy="364.9" r="2.05"/><circle cx="155.5" cy="367.1" r="2.05"/><circle cx="161.3" cy="364.9" r="2.05"/><circle cx="166.4" cy="365.6" r="2.05"/><circle cx="171.5" cy="364.2" r="2.05"/><circle cx="103.8" cy="369.3" r="2.05"/><circle cx="108.2" cy="368.5" r="2.05"/><circle cx="106.0" cy="372.2" r="2.05"/><circle cx="103.1" cy="373.9" r="2.05"/><circle cx="118.4" cy="372.2" r="2.05"/><circle cx="119.8" cy="369.3" r="2.05"/><circle cx="128.5" cy="368.1" r="2.05"/><circle cx="132.2" cy="369.3" r="2.05"/><circle cx="134.4" cy="372.2" r="2.05"/><circle cx="136.5" cy="374.4" r="2.05"/><circle cx="140.2" cy="372.2" r="2.05"/><circle cx="141.6" cy="367.1" r="2.05"/><circle cx="144.5" cy="372.2" r="2.05"/><circle cx="143.8" cy="376.5" r="2.05"/><circle cx="138.7" cy="366.4" r="2.05"/><circle cx="153.3" cy="371.5" r="2.05"/><circle cx="164.2" cy="372.2" r="2.05"/><circle cx="169.3" cy="370.7" r="2.05"/><circle cx="140.2" cy="364.9" r="2.05"/><circle cx="135.1" cy="365.6" r="2.05"/><circle cx="215.6" cy="349.2" r="2.05"/><circle cx="183.8" cy="366.4" r="2.05"/><circle cx="185.7" cy="368.6" r="2.05"/><circle cx="190.9" cy="363.4" r="2.05"/><circle cx="192.1" cy="365.6" r="2.05"/><circle cx="195.4" cy="361.6" r="2.05"/><circle cx="203.2" cy="367.1" r="2.05"/><circle cx="202.1" cy="372.3" r="2.05"/><circle cx="210.1" cy="366.4" r="2.05"/><circle cx="219.3" cy="372.3" r="2.05"/><circle cx="221.6" cy="377.6" r="2.05"/><circle cx="224.6" cy="367.1" r="2.05"/><circle cx="227.6" cy="372.0" r="2.05"/><circle cx="233.6" cy="367.6" r="2.05"/><circle cx="241.8" cy="370.1" r="2.05"/><circle cx="244.0" cy="366.1" r="2.05"/><circle cx="46.9" cy="338.5" r="2.05"/><circle cx="49.9" cy="343.8" r="2.05"/><circle cx="53.1" cy="342.3" r="2.05"/><circle cx="47.7" cy="346.3" r="2.05"/><circle cx="52.9" cy="345.9" r="2.05"/><circle cx="54.6" cy="345.9" r="2.05"/><circle cx="58.8" cy="346.1" r="2.05"/><circle cx="61.4" cy="347.6" r="2.05"/><circle cx="50.3" cy="351.8" r="2.05"/><circle cx="51.5" cy="349.7" r="2.05"/><circle cx="58.1" cy="351.2" r="2.05"/><circle cx="59.8" cy="351.8" r="2.05"/><circle cx="64.0" cy="351.4" r="2.05"/><circle cx="66.5" cy="349.4" r="2.05"/><circle cx="73.9" cy="351.8" r="2.05"/><circle cx="46.8" cy="352.5" r="2.05"/><circle cx="49.9" cy="352.8" r="2.05"/><circle cx="55.4" cy="352.8" r="2.05"/><circle cx="56.9" cy="353.9" r="2.05"/><circle cx="61.1" cy="355.5" r="2.05"/><circle cx="64.2" cy="354.0" r="2.05"/><circle cx="69.8" cy="353.6" r="2.05"/><circle cx="74.0" cy="353.8" r="2.05"/><circle cx="75.2" cy="353.6" r="2.05"/><circle cx="78.1" cy="353.6" r="2.05"/><circle cx="82.3" cy="355.1" r="2.05"/><circle cx="48.7" cy="356.5" r="2.05"/><circle cx="52.2" cy="358.6" r="2.05"/><circle cx="55.5" cy="356.0" r="2.05"/><circle cx="61.5" cy="357.6" r="2.05"/><circle cx="65.2" cy="357.1" r="2.05"/><circle cx="68.5" cy="357.9" r="2.05"/><circle cx="71.7" cy="358.2" r="2.05"/><circle cx="74.2" cy="356.1" r="2.05"/><circle cx="76.9" cy="358.6" r="2.05"/><circle cx="82.6" cy="358.8" r="2.05"/><circle cx="84.3" cy="357.9" r="2.05"/><circle cx="89.3" cy="357.9" r="2.05"/><circle cx="48.3" cy="361.6" r="2.05"/><circle cx="50.6" cy="362.3" r="2.05"/><circle cx="56.3" cy="359.6" r="2.05"/><circle cx="59.9" cy="362.4" r="2.05"/><circle cx="62.4" cy="359.5" r="2.05"/><circle cx="66.7" cy="359.8" r="2.05"/><circle cx="70.5" cy="361.5" r="2.05"/><circle cx="71.1" cy="359.9" r="2.05"/><circle cx="76.5" cy="361.2" r="2.05"/><circle cx="80.3" cy="362.3" r="2.05"/><circle cx="82.2" cy="359.4" r="2.05"/><circle cx="88.0" cy="359.4" r="2.05"/><circle cx="91.4" cy="359.7" r="2.05"/><circle cx="50.5" cy="365.4" r="2.05"/><circle cx="54.3" cy="364.7" r="2.05"/><circle cx="57.8" cy="363.5" r="2.05"/><circle cx="60.7" cy="364.0" r="2.05"/><circle cx="64.9" cy="365.4" r="2.05"/><circle cx="67.1" cy="364.6" r="2.05"/><circle cx="69.2" cy="363.0" r="2.05"/><circle cx="74.6" cy="364.5" r="2.05"/><circle cx="79.0" cy="364.8" r="2.05"/><circle cx="80.2" cy="364.1" r="2.05"/><circle cx="85.7" cy="364.6" r="2.05"/><circle cx="86.8" cy="365.6" r="2.05"/><circle cx="59.8" cy="366.7" r="2.05"/><circle cx="60.7" cy="368.4" r="2.05"/><circle cx="66.7" cy="368.1" r="2.05"/><circle cx="68.8" cy="369.2" r="2.05"/><circle cx="73.4" cy="366.7" r="2.05"/><circle cx="77.2" cy="367.1" r="2.05"/><circle cx="78.9" cy="369.1" r="2.05"/><circle cx="82.8" cy="369.0" r="2.05"/><circle cx="85.6" cy="369.2" r="2.05"/><circle cx="89.1" cy="366.9" r="2.05"/></g>
<path d="M48.2,320.7 L49.8,332.8 L51.4,340.1 L53.1,344.9 L54.7,348.4 L56.3,351.1 L58.0,353.1 L59.6,354.8 L61.2,356.1 L62.8,357.2 L64.5,358.2 L66.1,359.0 L67.7,359.7 L69.3,360.3 L71.0,360.9 L72.6,361.4 L74.2,361.8 L75.8,362.2 L77.5,362.5 L79.1,362.9 L80.7,363.2 L82.3,363.4 L84.0,363.7 L85.6,363.9 L87.2,364.1 L88.8,364.3 L90.5,364.5 L92.1,364.7 L93.7,364.8 L95.3,365.0 L97.0,365.1 L98.6,365.2 L100.2,365.4 L101.9,365.5 L103.5,365.6 L105.1,365.7 L106.7,365.8 L108.4,365.9 L110.0,366.0 L111.6,366.1 L113.2,366.2 L114.9,366.2 L116.5,366.3 L118.1,366.4 L119.7,366.5 L121.4,366.5 L123.0,366.6 L124.6,366.7 L126.2,366.7 L127.9,366.8 L129.5,366.8 L131.1,366.9 L132.7,366.9 L134.4,367.0 L136.0,367.0 L137.6,367.1 L139.2,367.1 L140.9,367.2 L142.5,367.2 L144.1,367.2 L145.8,367.3 L147.4,367.3 L149.0,367.3 L150.6,367.4 L152.3,367.4 L153.9,367.4 L155.5,367.5 L157.1,367.5 L158.8,367.5 L160.4,367.6 L162.0,367.6 L163.6,367.6 L165.3,367.6 L166.9,367.7 L168.5,367.7 L170.1,367.7 L171.8,367.7 L173.4,367.8 L175.0,367.8 L176.6,367.8 L178.3,367.8 L179.9,367.9 L181.5,367.9 L183.1,367.9 L184.8,367.9 L186.4,367.9 L188.0,368.0 L189.7,368.0 L191.3,368.0 L192.9,368.0 L194.5,368.0 L196.2,368.1 L197.8,368.1 L199.4,368.1 L201.0,368.1 L202.7,368.1 L204.3,368.1 L205.9,368.1 L207.5,368.2 L209.2,368.2 L210.8,368.2 L212.4,368.2 L214.0,368.2 L215.7,368.2 L217.3,368.2 L218.9,368.3 L220.5,368.3 L222.2,368.3 L223.8,368.3 L225.4,368.3 L227.0,368.3 L228.7,368.3 L230.3,368.3 L231.9,368.4 L233.6,368.4 L235.2,368.4 L236.8,368.4 L238.4,368.4 L240.1,368.4 L241.7,368.4 L243.3,368.4" fill="none" stroke="#f41414" stroke-width="1.5"/>
<line x1="96.2" y1="255.9" x2="96.2" y2="392.2" stroke="#606060" stroke-width="1.15" stroke-dasharray="3.8,2.87"/>
<path d="M45.4,256.2 V397.7 M39.9,392.2 H248.8" stroke="#000" stroke-width="1.6" fill="none"/>
<path d="M39.9,392.2 H45.4 M39.9,346.9 H45.4 M39.9,301.5 H45.4 M39.9,256.2 H45.4 M45.4,392.2 V397.7 M96.2,392.2 V397.7 M147.1,392.2 V397.7 M198.0,392.2 V397.7 M248.8,392.2 V397.7" stroke="#000" stroke-width="1.6" fill="none"/>
<text x="38.4" y="396.2" text-anchor="end" class="t">0</text>
<text x="38.4" y="350.9" text-anchor="end" class="t">2</text>
<text x="38.4" y="305.5" text-anchor="end" class="t">4</text>
<text x="38.4" y="260.2" text-anchor="end" class="t">6</text>
<text x="45.4" y="410.2" text-anchor="middle" class="t">0</text>
<text x="96.2" y="410.2" text-anchor="middle" class="t">50</text>
<text x="147.1" y="410.2" text-anchor="middle" class="t">100</text>
<text x="198.0" y="410.2" text-anchor="middle" class="t">150</text>
<text x="248.8" y="410.2" text-anchor="middle" class="t">200</text>
<text x="147.1" y="426.7" text-anchor="middle" class="l">Ferritin (ng/mL)</text>
<text transform="translate(26.1,324.2) rotate(-90)" text-anchor="middle" class="l" style="font-size:11.15px">sTfR (mg/L)</text>
<text x="194" y="265" class="s"><tspan font-style="italic">r=-0.612</tspan></text>
<text x="194" y="278.1" class="s"><tspan font-style="italic">p</tspan>&lt;0.001</text>
<text x="2.5" y="244.6" class="pl">C</text>
<path d="M337.3,330.6 L338.9,336.1 L340.5,341.1 L342.1,345.5 L343.7,349.5 L345.3,353.1 L346.9,356.3 L348.5,359.2 L350.1,361.8 L351.8,364.2 L353.4,366.3 L355.0,368.2 L356.6,369.9 L358.2,371.4 L359.8,372.8 L361.4,374.0 L363.0,375.1 L364.6,376.1 L366.2,377.0 L367.8,377.9 L369.4,378.6 L371.0,379.2 L372.6,379.8 L374.2,380.4 L375.8,380.8 L377.4,381.3 L379.1,381.6 L380.7,382.0 L382.3,382.3 L383.9,382.6 L385.5,382.8 L387.1,383.1 L388.7,383.3 L390.3,383.4 L391.9,383.6 L393.5,383.8 L395.1,383.9 L396.7,384.0 L398.3,384.1 L399.9,384.2 L401.5,384.3 L403.1,384.4 L404.7,384.5 L406.3,384.5 L408.0,384.6 L409.6,384.6 L411.2,384.7 L412.8,384.7 L414.4,384.7 L416.0,384.8 L417.6,384.8 L419.2,384.8 L420.8,384.9 L422.4,384.9 L424.0,384.9 L425.6,384.9 L427.2,384.9 L428.8,385.0 L430.4,385.0 L432.0,385.0 L433.6,385.0 L435.3,385.0 L436.9,385.0 L438.5,385.0 L440.1,385.0 L441.7,385.0 L443.3,385.0 L444.9,385.0 L446.5,385.0 L448.1,385.0 L449.7,385.0 L451.3,385.1 L452.9,385.1 L454.5,385.1 L456.1,385.1 L457.7,385.1 L459.3,385.1 L460.9,385.1 L462.5,385.1 L464.2,385.1 L465.8,385.1 L467.4,385.1 L469.0,385.1 L470.6,385.1 L472.2,385.1 L473.8,385.1 L475.4,385.1 L477.0,385.1 L478.6,385.1 L480.2,385.1 L481.8,385.1 L483.4,385.1 L485.0,385.1 L486.6,385.1 L488.2,385.1 L489.8,385.1 L491.5,385.1 L493.1,385.1 L494.7,385.1 L496.3,385.1 L497.9,385.1 L499.5,385.1 L501.1,385.1 L502.7,385.1 L504.3,385.1 L505.9,385.1 L507.5,385.1 L509.1,385.1 L510.7,385.1 L512.3,385.1 L513.9,385.1 L515.5,385.1 L517.1,385.1 L518.8,385.1 L520.4,385.1 L522.0,385.1 L523.6,385.1 L525.2,385.1 L526.8,385.1 L528.4,385.1 L530.0,385.1" fill="none" stroke="#f41414" stroke-width="1.5"/>
<g fill="none" stroke="#222" stroke-width="1.05"><circle cx="337.8" cy="284.4" r="2.05"/><circle cx="336.4" cy="295.9" r="2.05"/><circle cx="342.0" cy="293.8" r="2.05"/><circle cx="338.8" cy="314.5" r="2.05"/><circle cx="342.9" cy="313.4" r="2.05"/><circle cx="337.8" cy="326.2" r="2.05"/><circle cx="345.1" cy="326.2" r="2.05"/><circle cx="341.0" cy="328.3" r="2.05"/><circle cx="338.5" cy="332.4" r="2.05"/><circle cx="346.1" cy="333.1" r="2.05"/><circle cx="356.2" cy="337.9" r="2.05"/><circle cx="339.3" cy="330.6" r="2.05"/><circle cx="337.6" cy="339.8" r="2.05"/><circle cx="343.3" cy="338.0" r="2.05"/><circle cx="343.9" cy="341.5" r="2.05"/><circle cx="347.4" cy="341.5" r="2.05"/><circle cx="337.6" cy="342.6" r="2.05"/><circle cx="345.6" cy="344.9" r="2.05"/><circle cx="347.4" cy="347.2" r="2.05"/><circle cx="338.7" cy="350.1" r="2.05"/><circle cx="337.6" cy="354.7" r="2.05"/><circle cx="342.2" cy="354.1" r="2.05"/><circle cx="350.2" cy="356.4" r="2.05"/><circle cx="337.6" cy="357.6" r="2.05"/><circle cx="342.8" cy="361.0" r="2.05"/><circle cx="347.4" cy="360.5" r="2.05"/><circle cx="338.2" cy="364.5" r="2.05"/><circle cx="344.5" cy="364.5" r="2.05"/><circle cx="355.4" cy="363.3" r="2.05"/><circle cx="362.3" cy="361.0" r="2.05"/><circle cx="361.2" cy="365.6" r="2.05"/><circle cx="375.5" cy="360.1" r="2.05"/><circle cx="342.8" cy="369.1" r="2.05"/><circle cx="348.0" cy="371.4" r="2.05"/><circle cx="352.0" cy="369.7" r="2.05"/><circle cx="357.7" cy="370.2" r="2.05"/><circle cx="364.0" cy="371.4" r="2.05"/><circle cx="340.5" cy="375.7" r="2.05"/><circle cx="349.1" cy="376.0" r="2.05"/><circle cx="353.7" cy="377.1" r="2.05"/><circle cx="358.9" cy="376.0" r="2.05"/><circle cx="361.7" cy="378.3" r="2.05"/><circle cx="373.2" cy="373.7" r="2.05"/><circle cx="379.6" cy="370.8" r="2.05"/><circle cx="379.0" cy="374.8" r="2.05"/><circle cx="363.7" cy="376.4" r="2.05"/><circle cx="360.1" cy="382.2" r="2.05"/><circle cx="360.8" cy="386.5" r="2.05"/><circle cx="368.8" cy="377.1" r="2.05"/><circle cx="371.0" cy="382.2" r="2.05"/><circle cx="368.1" cy="385.1" r="2.05"/><circle cx="377.5" cy="376.4" r="2.05"/><circle cx="376.8" cy="380.7" r="2.05"/><circle cx="381.9" cy="378.5" r="2.05"/><circle cx="383.4" cy="383.6" r="2.05"/><circle cx="381.9" cy="387.3" r="2.05"/><circle cx="387.0" cy="382.2" r="2.05"/><circle cx="389.2" cy="380.7" r="2.05"/><circle cx="389.9" cy="386.5" r="2.05"/><circle cx="394.3" cy="376.4" r="2.05"/><circle cx="396.5" cy="383.6" r="2.05"/><circle cx="395.7" cy="387.3" r="2.05"/><circle cx="405.2" cy="382.2" r="2.05"/><circle cx="405.2" cy="386.3" r="2.05"/><circle cx="408.8" cy="387.3" r="2.05"/><circle cx="412.5" cy="383.6" r="2.05"/><circle cx="416.1" cy="381.5" r="2.05"/><circle cx="416.1" cy="386.3" r="2.05"/><circle cx="421.9" cy="381.5" r="2.05"/><circle cx="422.6" cy="385.1" r="2.05"/><circle cx="427.7" cy="382.2" r="2.05"/><circle cx="429.2" cy="386.5" r="2.05"/><circle cx="433.5" cy="382.9" r="2.05"/><circle cx="454.4" cy="372.0" r="2.05"/><circle cx="437.6" cy="381.6" r="2.05"/><circle cx="435.0" cy="387.6" r="2.05"/><circle cx="452.0" cy="383.0" r="2.05"/><circle cx="456.4" cy="381.0" r="2.05"/><circle cx="459.6" cy="384.4" r="2.05"/><circle cx="449.0" cy="387.6" r="2.05"/><circle cx="449.6" cy="385.6" r="2.05"/><circle cx="471.6" cy="389.0" r="2.05"/><circle cx="483.0" cy="382.0" r="2.05"/><circle cx="490.0" cy="388.0" r="2.05"/><circle cx="503.6" cy="386.4" r="2.05"/><circle cx="512.4" cy="388.0" r="2.05"/><circle cx="515.6" cy="386.4" r="2.05"/><circle cx="529.6" cy="389.6" r="2.05"/><circle cx="532.4" cy="388.4" r="2.05"/><circle cx="338.5" cy="335.9" r="2.05"/><circle cx="343.1" cy="336.6" r="2.05"/><circle cx="340.5" cy="337.7" r="2.05"/><circle cx="342.3" cy="340.4" r="2.05"/><circle cx="341.5" cy="342.4" r="2.05"/><circle cx="347.2" cy="343.0" r="2.05"/><circle cx="341.6" cy="348.7" r="2.05"/><circle cx="343.5" cy="346.6" r="2.05"/><circle cx="348.2" cy="348.1" r="2.05"/><circle cx="338.7" cy="352.9" r="2.05"/><circle cx="340.8" cy="349.5" r="2.05"/><circle cx="347.8" cy="351.3" r="2.05"/><circle cx="349.8" cy="350.2" r="2.05"/><circle cx="338.8" cy="356.4" r="2.05"/><circle cx="343.3" cy="355.0" r="2.05"/><circle cx="349.9" cy="356.4" r="2.05"/><circle cx="353.8" cy="355.0" r="2.05"/><circle cx="343.0" cy="359.9" r="2.05"/><circle cx="346.7" cy="360.1" r="2.05"/><circle cx="349.6" cy="359.9" r="2.05"/><circle cx="353.3" cy="359.1" r="2.05"/><circle cx="339.5" cy="363.7" r="2.05"/><circle cx="344.9" cy="364.4" r="2.05"/><circle cx="347.5" cy="364.5" r="2.05"/><circle cx="353.5" cy="363.9" r="2.05"/><circle cx="357.9" cy="364.9" r="2.05"/><circle cx="342.5" cy="368.0" r="2.05"/><circle cx="344.4" cy="366.0" r="2.05"/><circle cx="349.9" cy="367.8" r="2.05"/><circle cx="353.1" cy="367.9" r="2.05"/><circle cx="358.6" cy="365.6" r="2.05"/><circle cx="362.1" cy="366.3" r="2.05"/><circle cx="347.3" cy="370.9" r="2.05"/><circle cx="350.7" cy="372.5" r="2.05"/><circle cx="355.7" cy="369.6" r="2.05"/><circle cx="360.6" cy="369.8" r="2.05"/><circle cx="364.4" cy="370.7" r="2.05"/><circle cx="368.5" cy="372.9" r="2.05"/><circle cx="347.5" cy="373.5" r="2.05"/><circle cx="348.7" cy="375.5" r="2.05"/><circle cx="354.5" cy="374.0" r="2.05"/><circle cx="358.6" cy="376.7" r="2.05"/><circle cx="361.7" cy="375.1" r="2.05"/><circle cx="365.2" cy="374.5" r="2.05"/><circle cx="372.0" cy="374.9" r="2.05"/><circle cx="375.9" cy="376.8" r="2.05"/><circle cx="355.9" cy="378.6" r="2.05"/><circle cx="361.2" cy="380.5" r="2.05"/><circle cx="362.4" cy="379.5" r="2.05"/><circle cx="367.4" cy="380.9" r="2.05"/><circle cx="373.3" cy="378.4" r="2.05"/><circle cx="375.4" cy="378.1" r="2.05"/><circle cx="363.1" cy="383.7" r="2.05"/><circle cx="364.5" cy="382.5" r="2.05"/><circle cx="370.1" cy="384.9" r="2.05"/><circle cx="375.7" cy="383.5" r="2.05"/><circle cx="376.5" cy="384.4" r="2.05"/><circle cx="382.1" cy="383.6" r="2.05"/></g>
<path d="M337.3,330.6 L337.7,331.9 L338.0,333.1 L338.4,334.3 L338.7,335.5 L339.1,336.6 L339.4,337.8 L339.8,338.8 L340.1,339.9 L340.5,341.0 L340.8,342.0 L341.2,343.0 L341.5,344.0 L341.9,344.9 L342.2,345.8 L342.6,346.7 L343.0,347.6 L343.3,348.5 L343.7,349.3 L344.0,350.2 L344.4,351.0 L344.7,351.8 L345.1,352.5 L345.4,353.3 L345.8,354.0 L346.1,354.7 L346.5,355.4 L346.8,356.1 L347.2,356.8 L347.5,357.4 L347.9,358.1 L348.3,358.7 L348.6,359.3 L349.0,359.9 L349.3,360.5 L349.7,361.1 L350.0,361.6 L350.4,362.2 L350.7,362.7 L351.1,363.2 L351.4,363.7 L351.8,364.2 L352.1,364.7 L352.5,365.2 L352.8,365.6 L353.2,366.1 L353.6,366.5 L353.9,366.9 L354.3,367.4 L354.6,367.8 L355.0,368.2 L355.3,368.6 L355.7,368.9 L356.0,369.3 L356.4,369.7 L356.7,370.0 L357.1,370.4 L357.4,370.7 L357.8,371.1 L358.1,371.4 L358.5,371.7 L358.9,372.0 L359.2,372.3 L359.6,372.6 L359.9,372.9 L360.3,373.2 L360.6,373.4 L361.0,373.7 L361.3,374.0 L361.7,374.2 L362.0,374.5 L362.4,374.7 L362.7,375.0 L363.1,375.2 L363.4,375.4 L363.8,375.7 L364.2,375.9 L364.5,376.1 L364.9,376.3 L365.2,376.5 L365.6,376.7 L365.9,376.9 L366.3,377.1 L366.6,377.3 L367.0,377.4 L367.3,377.6 L367.7,377.8 L368.0,378.0 L368.4,378.1 L368.7,378.3 L369.1,378.4 L369.5,378.6 L369.8,378.7 L370.2,378.9 L370.5,379.0 L370.9,379.2 L371.2,379.3 L371.6,379.4 L371.9,379.6 L372.3,379.7 L372.6,379.8 L373.0,379.9 L373.3,380.1 L373.7,380.2 L374.0,380.3 L374.4,380.4 L374.8,380.5 L375.1,380.6 L375.5,380.7 L375.8,380.8 L376.2,380.9 L376.5,381.0 L376.9,381.1 L377.2,381.2 L377.6,381.3 L377.9,381.4 L378.3,381.5 L378.6,381.6 L379.0,381.6 L379.3,381.7 L379.7,381.8" fill="none" stroke="#f41414" stroke-width="1.5"/>
<line x1="384.8" y1="255.9" x2="384.8" y2="391.6" stroke="#606060" stroke-width="1.15" stroke-dasharray="3.8,2.87"/>
<path d="M334.0,256.2 V397.1 M328.5,391.6 H537.1" stroke="#000" stroke-width="1.6" fill="none"/>
<path d="M328.5,391.6 H334.0 M328.5,357.8 H334.0 M328.5,323.9 H334.0 M328.5,290.1 H334.0 M328.5,256.2 H334.0 M334.0,391.6 V397.1 M384.8,391.6 V397.1 M435.6,391.6 V397.1 M486.3,391.6 V397.1 M537.1,391.6 V397.1" stroke="#000" stroke-width="1.6" fill="none"/>
<text x="327.0" y="395.6" text-anchor="end" class="t">0</text>
<text x="327.0" y="361.8" text-anchor="end" class="t">1</text>
<text x="327.0" y="327.9" text-anchor="end" class="t">2</text>
<text x="327.0" y="294.1" text-anchor="end" class="t">3</text>
<text x="327.0" y="260.2" text-anchor="end" class="t">4</text>
<text x="334.0" y="409.6" text-anchor="middle" class="t">0</text>
<text x="384.8" y="409.6" text-anchor="middle" class="t">50</text>
<text x="435.6" y="409.6" text-anchor="middle" class="t">100</text>
<text x="486.3" y="409.6" text-anchor="middle" class="t">150</text>
<text x="537.1" y="409.6" text-anchor="middle" class="t">200</text>
<text x="435.6" y="426.1" text-anchor="middle" class="l">Ferritin (ng/mL)</text>
<text transform="translate(314.5,320.3) rotate(-90)" text-anchor="middle" class="l" style="font-size:10.15px">sTfR/Hep ratio</text>
<text x="483.2" y="265" class="s"><tspan font-style="italic">r=-0.853</tspan></text>
<text x="483.2" y="278.1" class="s"><tspan font-style="italic">p</tspan>&lt;0.001</text>
<text x="299.3" y="244.6" class="pl">D</text>
</svg></body></html>
